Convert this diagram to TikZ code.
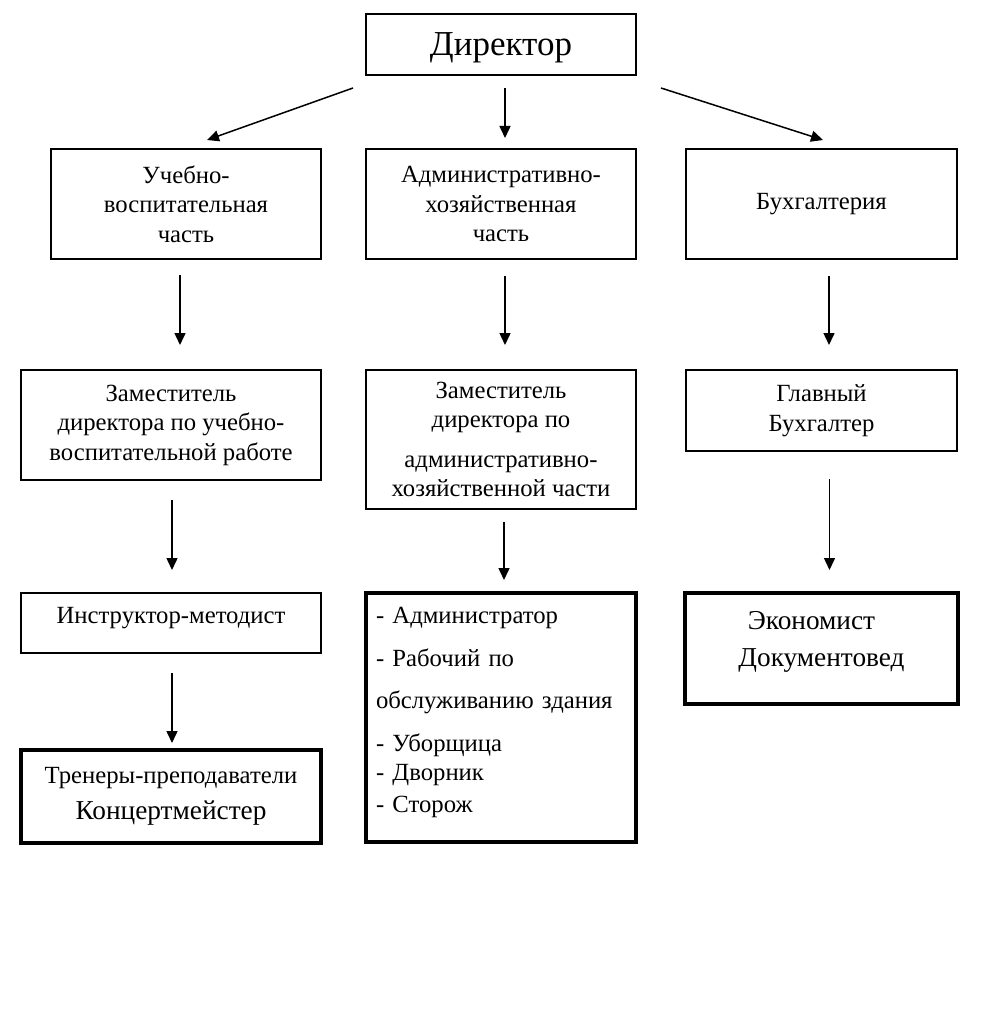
\documentclass[tikz,border=0pt]{standalone}
\usepackage{fontspec}
\setmainfont{Liberation Serif}
\usetikzlibrary{arrows.meta,positioning,calc}

\begin{document}
\begin{tikzpicture}[
    x=1pt, y=-1pt,
    box/.style={rectangle, draw, line width=1.6pt, outer sep=0pt, align=center, inner sep=4pt, font=\fontsize{24.7}{29.5}\selectfont},
    bold box/.style={box, line width=3.5pt},
    arr/.style={-{Triangle[length=12pt,width=11pt]}, line width=1.5pt}
]
    \useasboundingbox (0,0) rectangle (988,1024);

    \node (dir) [box, minimum width=270pt, minimum height=61pt, text depth=0pt, font=\fontsize{35}{40}\selectfont] at (501,44.5) {Директор};

    % first row
    \node (ahch) [box, minimum width=270pt, minimum height=110pt, below=74pt of dir] {Административно-\\хозяйственная\\часть};
    \node (uvch) [box, minimum width=270pt, minimum height=110pt, left=45pt of ahch] {Учебно-\\воспитательная\\часть};
    \node (buh) [box, minimum width=271pt, minimum height=110pt, right=50pt of ahch] {Бухгалтерия};

    % second row
    \node (zamuv) [box, minimum width=300pt, minimum height=110pt, below=111pt of uvch, xshift=-15pt] {Заместитель\\директора по учебно-\\воспитательной работе};
    \node (zamah) [box, minimum width=270pt, minimum height=139pt, below=111pt of ahch] {Заместитель\\директора по\\[10pt]административно-\\хозяйственной части};
    \node (glbuh) [box, minimum width=271pt, minimum height=81pt, below=111pt of buh] {Главный\\Бухгалтер};

    % third row
    \node (metod) [box, minimum width=300pt, minimum height=60pt, below=113pt of zamuv] {Инструктор-методист\\[-14pt]\mbox{}};
    \node (staff) [bold box, minimum width=270pt, minimum height=249pt, below=84pt of zamah, align=left, text width=250pt, inner xsep=10pt] {- Администратор\\[13.5pt]- Рабочий по\\[12.5pt]обслуживанию здания\\[13.5pt]- Уборщица\\- Дворник\\[2.5pt]- Сторож\\[-14.5pt]\mbox{}};
    \node (econ) [bold box, minimum width=273pt, minimum height=111pt, below=142pt of glbuh, font=\fontsize{27.3}{31}\selectfont] {\mbox{Экономист\hspace{20pt}}\\[6pt]Документовед\\[-12pt]\mbox{}};

    % fourth row
    \node (trener) [bold box, minimum width=300pt, minimum height=93pt, below=97pt of metod] {Тренеры-преподаватели\\[7pt]{\fontsize{27.3}{31}\selectfont Концертмейстер}};

    \draw[arr] ($(dir.south west)+(-13,13)$) -- ($(uvch.north)+(21,-9)$);
    \draw[arr, shorten <=13pt, shorten >=11pt] ([xshift=4pt]dir.south) -- ([xshift=4pt]ahch.north);
    \draw[arr] ($(dir.south east)+(25,13)$) -- ($(buh.north)+(1.5,-9)$);

    \draw[arr, shorten <=16pt, shorten >=25pt] ([xshift=-6pt]uvch.south) -- ([xshift=9pt]zamuv.north);
    \draw[arr, shorten <=17pt, shorten >=25pt] ([xshift=4pt]ahch.south) -- ([xshift=4pt]zamah.north);
    \draw[arr, shorten <=17pt, shorten >=25pt] ([xshift=7.5pt]buh.south) -- ([xshift=7.5pt]glbuh.north);

    \draw[arr, shorten <=20pt, shorten >=23pt] ([xshift=1pt]zamuv.south) -- ([xshift=1pt]metod.north);
    \draw[arr, shorten <=13pt, shorten >=13pt] ([xshift=3pt]zamah.south) -- ([xshift=3pt]staff.north);
    \draw[arr, shorten <=28pt, shorten >=23pt] ([xshift=8pt]glbuh.south) -- ([xshift=8pt]econ.north);

    \draw[arr, shorten <=20pt, shorten >=7pt] ([xshift=1pt]metod.south) -- ([xshift=1pt]trener.north);
\end{tikzpicture}
\end{document}
